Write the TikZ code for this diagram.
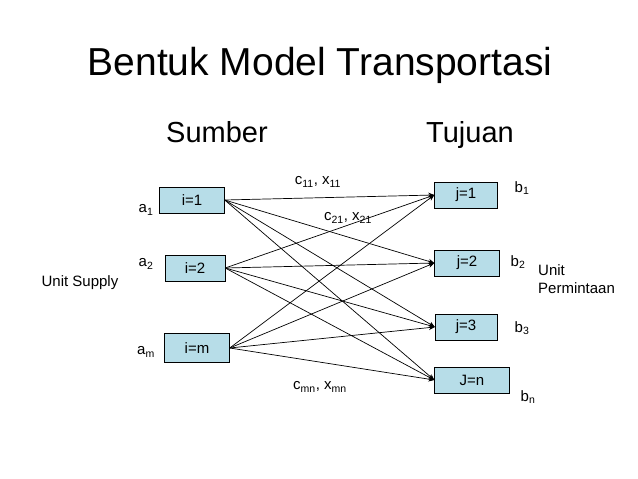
\documentclass[tikz,border=0pt]{standalone}
\usepackage{fontspec}
\setmainfont{Liberation Sans}
\usetikzlibrary{arrows.meta}
\definecolor{boxc}{RGB}{183,221,232}
\begin{document}
\begin{tikzpicture}[x=1pt,y=-1pt,
  box/.style={draw=black,fill=boxc,minimum height=26pt,inner sep=0pt,font=\fontsize{15}{17}\selectfont},
  lab/.style={font=\fontsize{15}{17}\selectfont,inner sep=0pt},
  arr/.style={-{Stealth[length=6pt,width=5pt]},line width=0.7pt}]
\useasboundingbox (0,0) rectangle (638,479);
\node[font=\fontsize{39}{44}\selectfont,anchor=base] (title) at (320,75) {Bentuk Model Transportasi};
\node[font=\fontsize{29}{33}\selectfont,anchor=base] (sumber) at (217,142) {Sumber};
\node[font=\fontsize{29}{33}\selectfont,anchor=base] (tujuan) at (470,142) {Tujuan};
\node[box,minimum width=65pt] (i1) at (192,200) {i=1};
\node[box,minimum width=60pt] (i2) at (195,268) {i=2};
\node[box,minimum width=65pt,minimum height=29pt] (im) at (197,348) {i=m};
\node[box,minimum width=63pt] (j1) at (466,195) {j=1};
\node[box,minimum width=65pt] (j2) at (467,263) {j=2};
\node[box,minimum width=62pt] (j3) at (466,327) {j=3};
\node[box,minimum width=75pt] (jn) at (472,380) {J=n};
\foreach \s in {i1,i2,im}{
  \foreach \t in {j1,j2,j3,jn}{
    \draw[arr] (\s.east) -- (\t.west);
  }
}
\node[lab] (c11) at (318,182) {c\textsubscript{11}, x\textsubscript{11}};
\node[lab] (c21) at (348,218) {c\textsubscript{21}, x\textsubscript{21}};
\node[lab] (cmn) at (320,387) {c\textsubscript{mn}, x\textsubscript{mn}};
\node[lab] (a1) at (146,210) {a\textsubscript{1}};
\node[lab] (a2) at (146,264) {a\textsubscript{2}};
\node[lab] (am) at (146,352) {a\textsubscript{m}};
\node[lab] (b1) at (522,188) {b\textsubscript{1}};
\node[lab] (b2) at (518,262) {b\textsubscript{2}};
\node[lab] (b3) at (522,328) {b\textsubscript{3}};
\node[lab] (bn) at (528,397) {b\textsubscript{n}};
\node[lab] (us) at (80,283) {Unit Supply};
\node[lab,align=left,anchor=west] (up) at (538,279) {Unit\\[1pt]Permintaan};
\end{tikzpicture}
\end{document}
